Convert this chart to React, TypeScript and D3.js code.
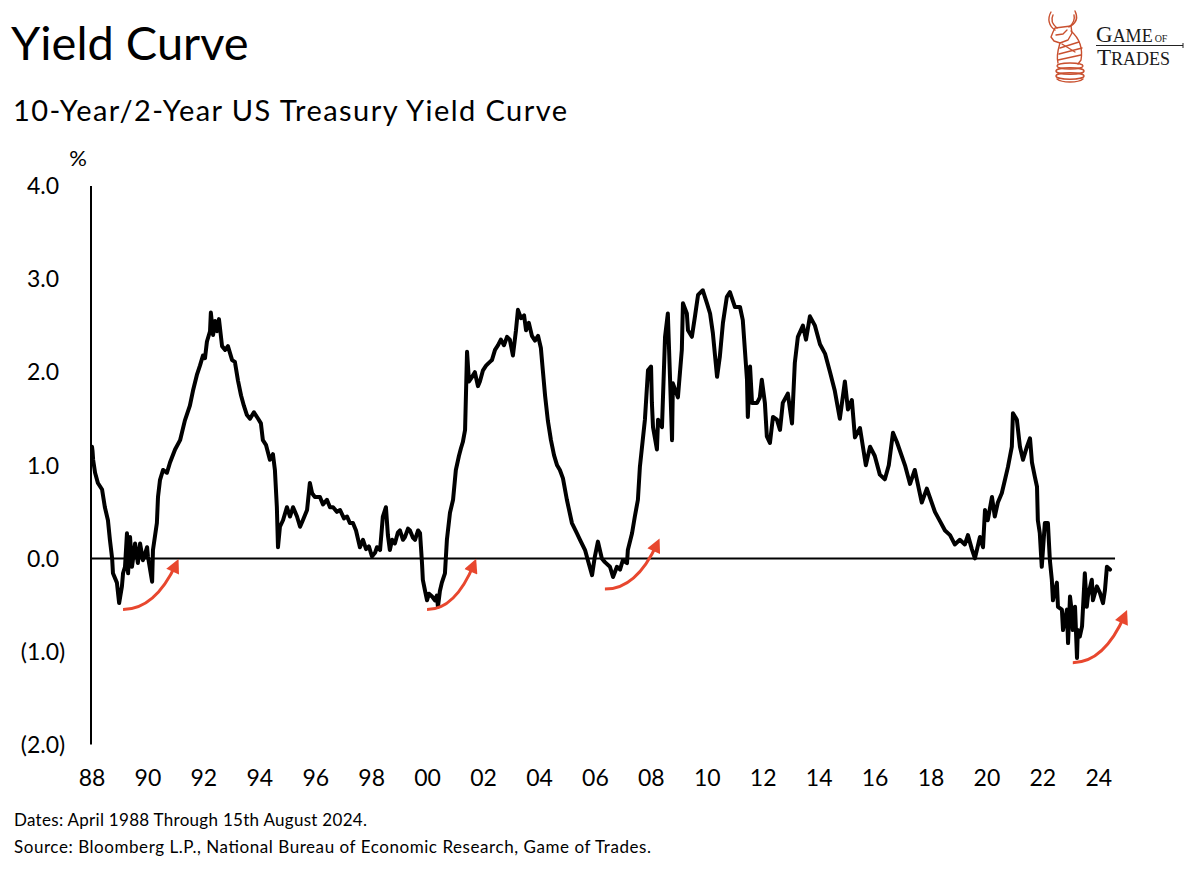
import React from "react";
import * as d3 from "d3";

// ---- Data: [decimal year, 10Y-2Y spread %] ----
const spread1988to1994: [number, number][] = [
  [1988.29, 1.2], [1988.31, 1.15], [1988.33, 1.06], [1988.4, 0.92], [1988.5, 0.81], [1988.65, 0.74], [1988.75, 0.55],
  [1988.86, 0.41], [1988.93, 0.2], [1989.01, 0.0], [1989.04, -0.16], [1989.18, -0.26], [1989.26, -0.48], [1989.36, -0.3],
  [1989.4, -0.16], [1989.47, -0.09], [1989.54, 0.27], [1989.58, -0.16], [1989.65, 0.23], [1989.72, -0.09], [1989.83, 0.16],
  [1989.93, -0.05], [1990.01, 0.16], [1990.11, -0.02], [1990.26, 0.12], [1990.29, 0.02], [1990.44, -0.25], [1990.47, 0.09],
  [1990.61, 0.38], [1990.65, 0.66], [1990.72, 0.84], [1990.83, 0.95], [1990.97, 0.92], [1991.08, 1.03], [1991.26, 1.17],
  [1991.44, 1.27], [1991.61, 1.48], [1991.79, 1.64], [1991.9, 1.8], [1992.04, 1.97], [1992.15, 2.07], [1992.26, 2.18],
  [1992.33, 2.15], [1992.4, 2.33], [1992.51, 2.44], [1992.54, 2.64], [1992.62, 2.4], [1992.69, 2.55], [1992.76, 2.44],
  [1992.83, 2.57], [1992.94, 2.28], [1993.05, 2.24], [1993.15, 2.28], [1993.3, 2.13], [1993.4, 2.11], [1993.51, 1.91],
  [1993.62, 1.75], [1993.72, 1.64], [1993.83, 1.54], [1993.94, 1.5], [1994.08, 1.57], [1994.23, 1.5], [1994.33, 1.45],
  [1994.4, 1.27], [1994.51, 1.22], [1994.65, 1.06], [1994.76, 1.12], [1994.83, 0.95], [1994.9, 0.55], [1994.94, 0.12],
];
const spread1995to1999: [number, number][] = [
  [1995.01, 0.34], [1995.12, 0.41], [1995.26, 0.55], [1995.37, 0.45], [1995.48, 0.55], [1995.62, 0.45], [1995.73, 0.34],
  [1995.83, 0.41], [1995.98, 0.52], [1996.08, 0.81], [1996.16, 0.7], [1996.26, 0.66], [1996.44, 0.66], [1996.55, 0.58],
  [1996.69, 0.63], [1996.8, 0.55], [1996.91, 0.55], [1997.05, 0.5], [1997.16, 0.52], [1997.3, 0.43], [1997.41, 0.45],
  [1997.51, 0.38], [1997.62, 0.38], [1997.73, 0.3], [1997.87, 0.12], [1997.98, 0.2], [1998.09, 0.1], [1998.19, 0.13],
  [1998.3, 0.02], [1998.41, 0.06], [1998.48, 0.12], [1998.59, 0.09], [1998.69, 0.45], [1998.8, 0.55], [1998.87, 0.25],
  [1998.94, 0.09], [1999.02, 0.2], [1999.12, 0.16], [1999.23, 0.28], [1999.3, 0.3], [1999.41, 0.2], [1999.48, 0.23],
  [1999.59, 0.32], [1999.66, 0.3], [1999.77, 0.22], [1999.84, 0.2], [1999.95, 0.3],
];
const spread2000to2007: [number, number][] = [
  [2000.02, 0.27], [2000.09, -0.05], [2000.12, -0.23], [2000.2, -0.35], [2000.27, -0.45], [2000.34, -0.38], [2000.45, -0.41],
  [2000.55, -0.45], [2000.62, -0.4], [2000.66, -0.52], [2000.73, -0.35], [2000.8, -0.26], [2000.91, -0.16], [2000.98, 0.2],
  [2001.09, 0.49], [2001.2, 0.63], [2001.3, 0.95], [2001.41, 1.1], [2001.48, 1.18], [2001.55, 1.25], [2001.63, 1.38],
  [2001.7, 2.22], [2001.77, 1.9], [2001.88, 1.95], [2001.98, 2.0], [2002.09, 1.85], [2002.16, 1.9], [2002.27, 2.02],
  [2002.38, 2.07], [2002.48, 2.1], [2002.59, 2.13], [2002.7, 2.24], [2002.81, 2.29], [2002.91, 2.35], [2003.02, 2.29],
  [2003.13, 2.38], [2003.23, 2.35], [2003.34, 2.18], [2003.45, 2.45], [2003.52, 2.67], [2003.63, 2.58], [2003.74, 2.61],
  [2003.81, 2.45], [2003.91, 2.53], [2004.02, 2.39], [2004.13, 2.34], [2004.24, 2.39], [2004.34, 2.26], [2004.41, 2.02],
  [2004.49, 1.75], [2004.59, 1.48], [2004.7, 1.27], [2004.81, 1.11], [2004.92, 1.0], [2005.02, 0.95], [2005.13, 0.86],
  [2005.27, 0.63], [2005.45, 0.38], [2005.63, 0.27], [2005.74, 0.2], [2005.92, 0.09], [2006.02, -0.02], [2006.17, -0.18],
  [2006.27, 0.02], [2006.38, 0.18], [2006.52, 0.0], [2006.63, -0.04], [2006.81, -0.09], [2006.92, -0.2], [2007.06, -0.09],
  [2007.17, -0.12], [2007.27, -0.02], [2007.42, -0.05], [2007.45, 0.09], [2007.6, 0.27], [2007.7, 0.45], [2007.81, 0.63],
];
const spread2008to2015: [number, number][] = [
  [2007.88, 0.98], [2008.06, 1.49], [2008.17, 2.02], [2008.28, 2.06], [2008.31, 1.67], [2008.35, 1.41], [2008.49, 1.17],
  [2008.53, 1.49], [2008.67, 1.41], [2008.78, 2.38], [2008.88, 2.63], [2008.96, 1.92], [2009.03, 1.27], [2009.06, 1.88],
  [2009.24, 1.73], [2009.38, 2.24], [2009.42, 2.74], [2009.56, 2.63], [2009.6, 2.45], [2009.74, 2.38], [2009.85, 2.6],
  [2009.96, 2.83], [2010.13, 2.88], [2010.28, 2.74], [2010.39, 2.63], [2010.49, 2.42], [2010.64, 1.95], [2010.74, 2.17],
  [2010.85, 2.53], [2010.99, 2.81], [2011.1, 2.86], [2011.28, 2.7], [2011.46, 2.7], [2011.56, 2.56], [2011.71, 1.92],
  [2011.74, 1.52], [2011.82, 2.06], [2011.89, 1.67], [2012.07, 1.67], [2012.17, 1.73], [2012.24, 1.92], [2012.35, 1.67],
  [2012.42, 1.31], [2012.53, 1.24], [2012.64, 1.52], [2012.78, 1.49], [2012.89, 1.38], [2012.99, 1.67], [2013.17, 1.77],
  [2013.32, 1.45], [2013.42, 2.1], [2013.53, 2.38], [2013.71, 2.5], [2013.82, 2.35], [2013.96, 2.6], [2014.14, 2.5],
  [2014.32, 2.3], [2014.5, 2.2], [2014.68, 2.0], [2014.85, 1.8], [2015.03, 1.5], [2015.21, 1.9], [2015.32, 1.6],
  [2015.46, 1.7], [2015.57, 1.3], [2015.75, 1.4], [2015.96, 1.0],
];
const spread2016to2024: [number, number][] = [
  [2016.11, 1.2], [2016.28, 1.1], [2016.46, 0.9], [2016.64, 0.85], [2016.78, 1.0], [2016.93, 1.35], [2017.07, 1.25],
  [2017.36, 1.0], [2017.54, 0.8], [2017.71, 0.95], [2017.96, 0.6], [2018.14, 0.75], [2018.43, 0.5], [2018.61, 0.4],
  [2018.79, 0.3], [2018.97, 0.25], [2019.14, 0.15], [2019.32, 0.2], [2019.5, 0.15], [2019.61, 0.25], [2019.75, 0.1],
  [2019.86, 0.0], [2020.04, 0.23], [2020.15, 0.12], [2020.22, 0.52], [2020.32, 0.41], [2020.47, 0.66], [2020.57, 0.45],
  [2020.68, 0.6], [2020.82, 0.7], [2020.93, 0.84], [2021.04, 0.98], [2021.18, 1.2], [2021.22, 1.56], [2021.36, 1.49],
  [2021.47, 1.2], [2021.58, 1.06], [2021.72, 1.2], [2021.83, 1.29], [2021.9, 1.03], [2022.0, 0.88], [2022.08, 0.77],
  [2022.11, 0.41], [2022.18, 0.27], [2022.25, -0.09], [2022.36, 0.38], [2022.47, 0.38], [2022.54, -0.02], [2022.61, -0.23],
  [2022.65, -0.45], [2022.79, -0.26], [2022.83, -0.52], [2022.97, -0.55], [2023.01, -0.77], [2023.15, -0.55], [2023.19, -0.91],
  [2023.26, -0.41], [2023.33, -0.59], [2023.36, -0.77], [2023.44, -0.52], [2023.51, -1.07], [2023.54, -0.77], [2023.61, -0.84],
  [2023.69, -0.73], [2023.79, -0.16], [2023.86, -0.52], [2023.9, -0.41], [2024.04, -0.23], [2024.08, -0.45], [2024.22, -0.3],
  [2024.33, -0.37], [2024.44, -0.48], [2024.51, -0.34], [2024.58, -0.09], [2024.69, -0.12],
];

const yTickValues = [4, 3, 2, 1, 0, -1, -2];
const yTickLabels = ["4.0", "3.0", "2.0", "1.0", "0.0", "(1.0)", "(2.0)"];
const xTickYears = [1988, 1990, 1992, 1994, 1996, 1998, 2000, 2002, 2004, 2006, 2008, 2010, 2012, 2014, 2016, 2018, 2020, 2022, 2024];
const xTickLabels = ["88", "90", "92", "94", "96", "98", "00", "02", "04", "06", "08", "10", "12", "14", "16", "18", "20", "22", "24"];

// recovery arrows: start and tip as [year, value]
const arrowStarts: [number, number][] = [[1989.4, -0.55], [2000.27, -0.55], [2006.63, -0.33], [2023.36, -1.12]];
const arrowTips: [number, number][] = [[1991.3, -0.06], [2001.95, -0.06], [2008.5, 0.16], [2025.22, -0.61]];

const title = "Yield Curve";
const subtitle = "10-Year/2-Year US Treasury Yield Curve";
const footnotes = [
  "Dates: April 1988 Through 15th August 2024.",
  "Source: Bloomberg L.P., National Bureau of Economic Research, Game of Trades.",
];
const footnoteWidths = [353, 637];

const FONT = "Lato, 'Open Sans', sans-serif";
const RED = "#E8472E";

const W = 1200;
const H = 870;

export default function App() {
  const data = [...spread1988to1994, ...spread1995to1999, ...spread2000to2007, ...spread2008to2015, ...spread2016to2024];
  const tickOffset = 0.29; // ticks sit at the April start of every second year
  const x = d3.scaleLinear().domain([1988.29, 2024.69]).range([92, 1110]);
  const y = d3.scaleLinear().domain([-2, 4]).range([744.6, 186]);
  const line = d3
    .line<[number, number]>()
    .x((d) => x(d[0]))
    .y((d) => y(d[1]));

  const arrowPath = (s: [number, number], t: [number, number]) => {
    const x0 = x(s[0]), y0 = y(s[1]), x2 = x(t[0]), y2 = y(t[1]);
    const cx = x0 + 0.6 * (x2 - x0), cy = y0;
    const p = d3.path();
    p.moveTo(x0, y0);
    p.quadraticCurveTo(cx, cy, x2, y2);
    return p.toString();
  };

  return (
    <svg width={W} height={H} viewBox={`0 0 ${W} ${H}`} style={{ display: "block", position: "absolute", left: 0, top: 0, background: "#fff" }}>
      <defs>
        <marker id="ah" viewBox="0 0 10 10" refX="6" refY="5" markerWidth="15" markerHeight="14" markerUnits="userSpaceOnUse" orient="auto">
          <path d="M0,0 L10,5 L0,10 z" fill={RED} />
        </marker>
      </defs>
      <rect x={0} y={0} width={W} height={H} fill="#fff" />
      <text x={11} y={60} fontFamily={FONT} fontSize={47} fill="#000">{title}</text>
      <text x={13} y={121} fontFamily={FONT} fontSize={29} fill="#000" textLength={554} lengthAdjust="spacing">{subtitle}</text>

      {/* Logo */}
      <g stroke="#C9502F" strokeWidth={1.4} fill="none" strokeLinejoin="round" strokeLinecap="round">
        <path d="M1055,30 C1049,26 1047,19 1051,12" />
        <path d="M1057,28 C1052,24 1051,19 1053,15" />
        <path d="M1071,26 C1077,22 1078,17 1075,11" />
        <path d="M1069,27 C1074,23 1075,19 1074,15" />
        <path d="M1055,28 L1071,26 L1072,33 L1068,40 L1060,43 L1054,41 L1051,37 L1053,32 z" />
        <path d="M1056,35 L1063,34 L1067,30" />
        <path d="M1060,43 C1058,50 1056,56 1058,63" />
        <path d="M1071,31 C1079,38 1083,48 1081,60 L1078,64" />
        <path d="M1060,48 L1079,42" />
        <path d="M1059,54 L1082,48" />
        <path d="M1058,60 L1081,55" />
        <path d="M1062,44 L1075,52" />
        <ellipse cx={1070} cy={66} rx={13} ry={3} />
        <ellipse cx={1070} cy={71} rx={14} ry={3.2} />
        <ellipse cx={1070} cy={76} rx={14} ry={3.2} />
        <path d="M1057,79 C1062,83 1078,83 1083,79" />
      </g>
      <g fontFamily="'Liberation Serif', 'DejaVu Serif', serif" fill="#1a1a1a">
        <text x={1096} y={42}>
          <tspan fontSize={23}>G</tspan>
          <tspan fontSize={18}>AME</tspan>
          <tspan fontSize={10} dx={2}>OF</tspan>
        </text>
        <text x={1097} y={65}>
          <tspan fontSize={23}>T</tspan>
          <tspan fontSize={18}>RADES</tspan>
        </text>
      </g>
      <line x1={1096} x2={1183} y1={45.5} y2={45.5} stroke="#222" strokeWidth={1} />
      <line x1={1183} x2={1183} y1={43} y2={48} stroke="#222" strokeWidth={1} />

      {/* Axis unit */}
      <text x={78} y={166} textAnchor="middle" fontFamily={FONT} fontSize={22} fill="#000">%</text>

      {/* Y axis */}
      <line x1={91} x2={91} y1={y(4)} y2={y(-2)} stroke="#000" strokeWidth={2} />
      {yTickValues.map((v, i) => (
        <text key={v} x={43} y={y(v)} dy="0.36em" textAnchor="middle" fontFamily={FONT} fontSize={23} fill="#000">
          {yTickLabels[i]}
        </text>
      ))}

      {/* X tick labels */}
      {xTickYears.map((yr, i) => (
        <text key={yr} x={x(yr + tickOffset)} y={786} textAnchor="middle" fontFamily={FONT} fontSize={23} fill="#000">
          {xTickLabels[i]}
        </text>
      ))}

      {/* Zero line */}
      <line x1={91} x2={x(2024.87)} y1={y(0)} y2={y(0)} stroke="#000" strokeWidth={2} />

      {/* Series */}
      <path d={line(data) || ""} fill="none" stroke="#000" strokeWidth={4} strokeLinejoin="round" strokeLinecap="round" />

      {/* Recovery arrows */}
      {arrowStarts.map((s, i) => (
        <path key={i} d={arrowPath(s, arrowTips[i])} fill="none" stroke={RED} strokeWidth={3} markerEnd="url(#ah)" />
      ))}

      {/* Footnotes */}
      {footnotes.map((f, i) => (
        <text key={i} x={14} y={826 + i * 27} fontFamily={FONT} fontSize={17} fill="#000" textLength={footnoteWidths[i]} lengthAdjust="spacing">{f}</text>
      ))}
    </svg>
  );
}
